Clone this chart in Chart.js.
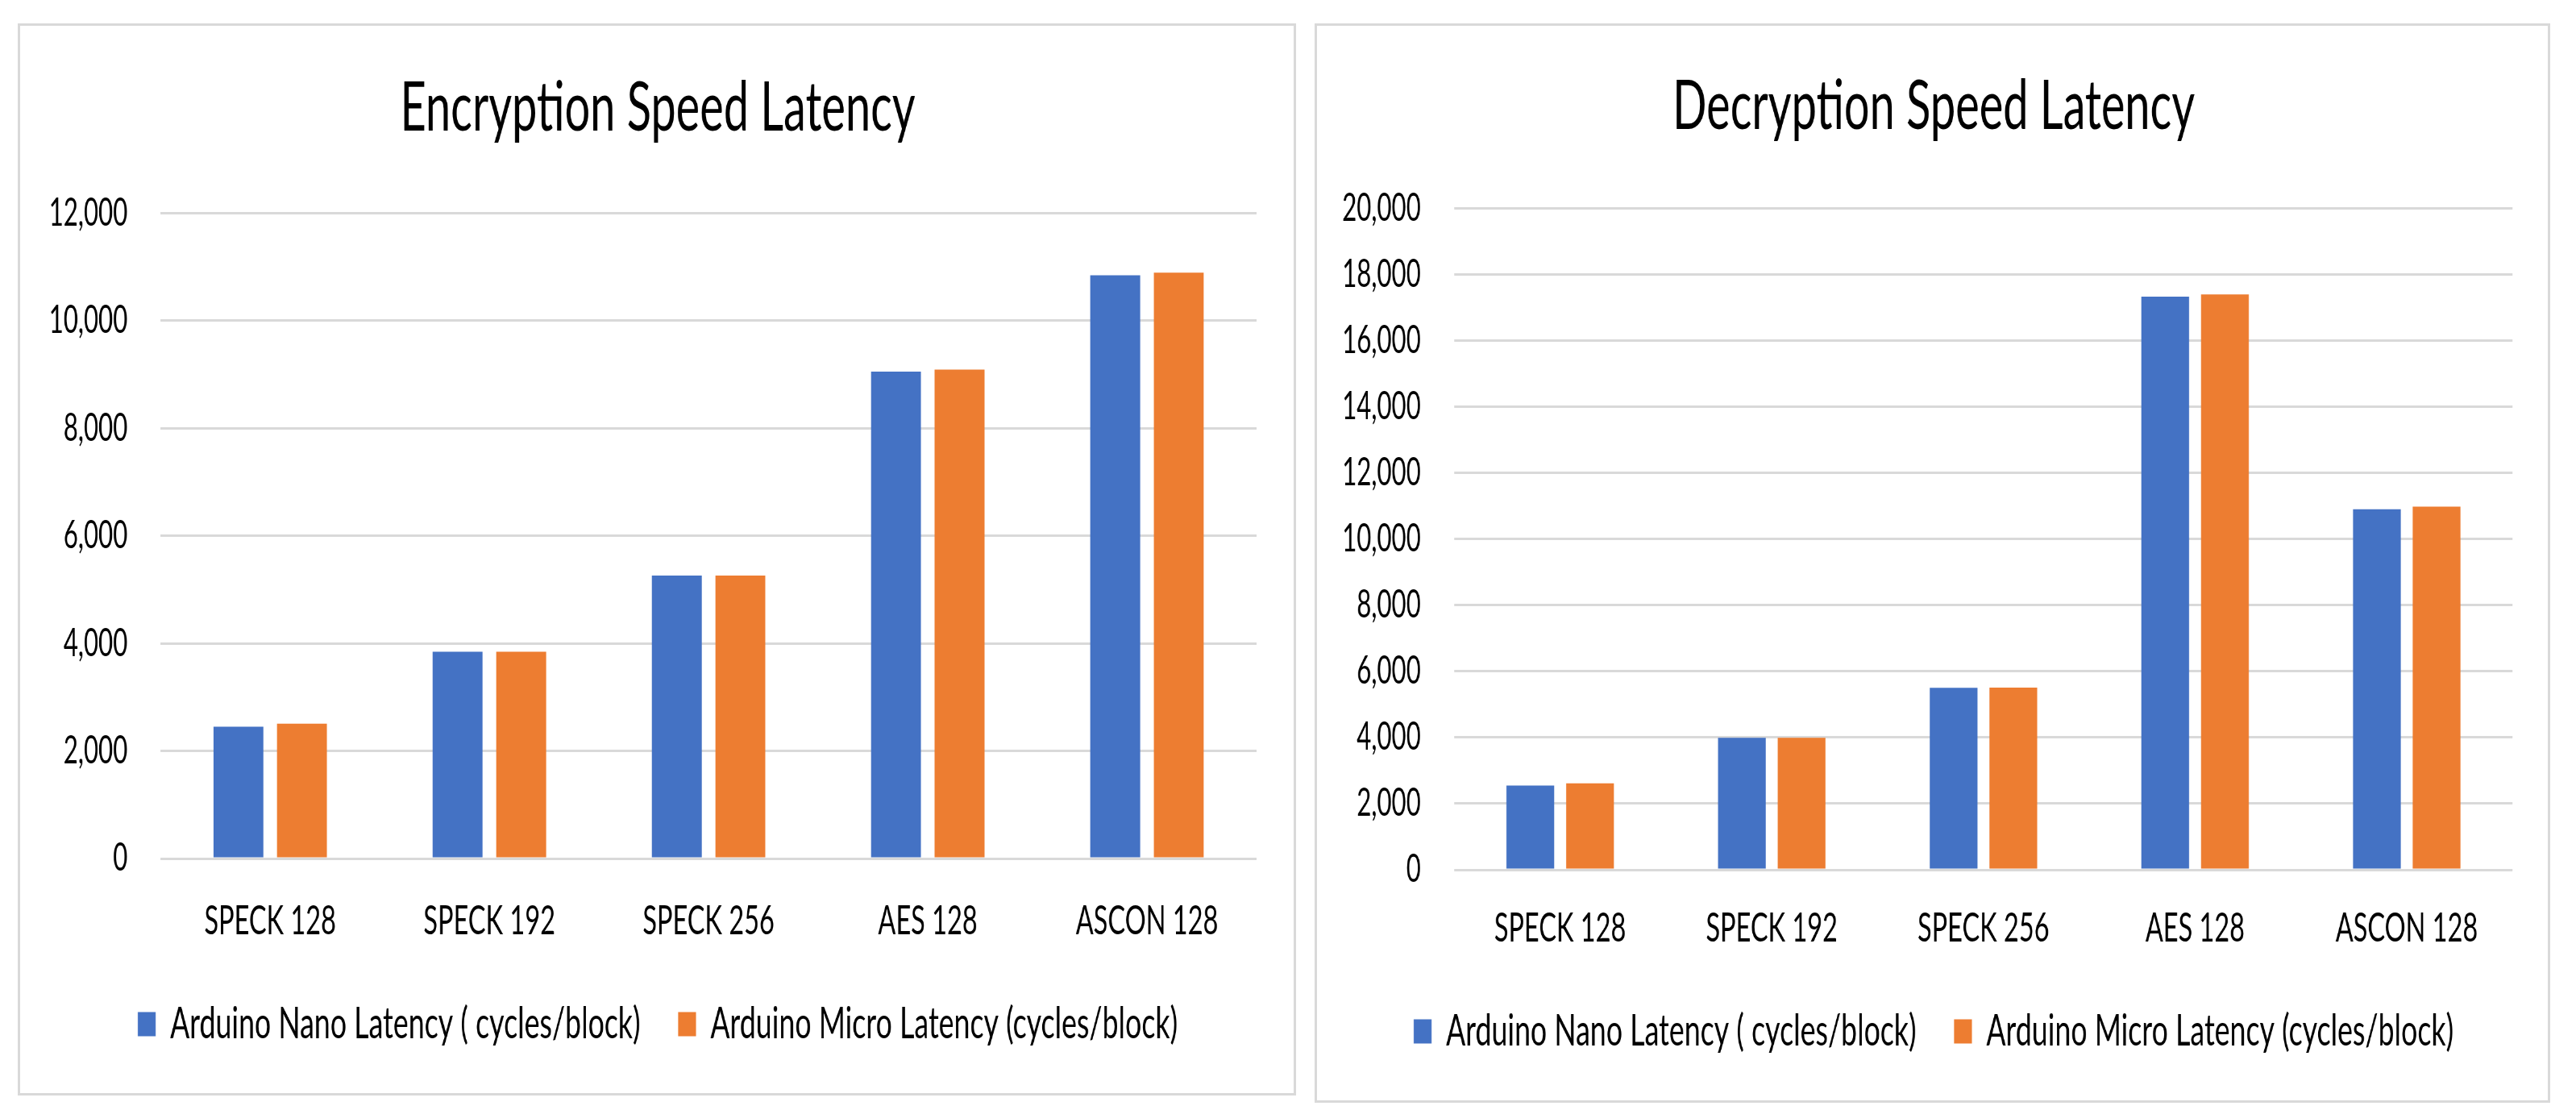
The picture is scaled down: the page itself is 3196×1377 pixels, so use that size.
<!DOCTYPE html>
<html>
<head>
<meta charset="utf-8">
<script src="https://cdn.jsdelivr.net/npm/chart.js@4"></script>
<style>
  body { margin: 0; background: #fff; width: 3196px; height: 1377px; overflow: hidden; }
  .panel { position: absolute; border: 3px solid #d9d9d9; background: #fff; overflow: hidden; }
  .squeeze { position: absolute; left: 0; top: 0; height: 100%; transform: scaleX(0.65); transform-origin: 0 0; }
</style>
</head>
<body>
<div class="panel" style="left:22px;top:29px;width:1580px;height:1324px">
  <div class="squeeze" style="width:2440px"><canvas id="encChart"></canvas></div>
</div>
<div class="panel" style="left:1631px;top:29px;width:1527px;height:1333px">
  <div class="squeeze" style="width:2360px"><canvas id="decChart"></canvas></div>
</div>
<script>
// Dados
const algorithms = ['SPECK 128', 'SPECK 192', 'SPECK 256', 'AES 128', 'ASCON 128'];
const seriesNames = ['Arduino Nano Latency ( cycles/block)', 'Arduino Micro Latency (cycles/block)'];

const encNano = [2450, 3845, 5260, 9050, 10840];
const encMicro = [2505, 3845, 5260, 9090, 10890];
const decNano = [2546, 3990, 5500, 17325, 10895];
const decMicro = [2611, 3990, 5505, 17390, 10980];

const encTicksMax = 12000;
const decTicksMax = 20000;

const blue = '#4472C4';
const orange = '#ED7D31';
const gridColor = '#d9d9d9';
const fontFamily = 'Lato, "Open Sans", sans-serif';

function makeChart(canvasId, title, nano, micro, maxY, lay) {
    const ctx = document.getElementById(canvasId).getContext('2d');
    return new Chart(ctx, {
        type: 'bar',
        data: {
            labels: algorithms,
            datasets: [
                { label: seriesNames[0], data: nano, backgroundColor: blue },
                { label: seriesNames[1], data: micro, backgroundColor: orange },
            ],
        },
        options: {
            responsive: true,
            maintainAspectRatio: false,
            animation: false,
            devicePixelRatio: 1,
            categoryPercentage: lay.cp,
            barPercentage: lay.bp,
            layout: { padding: { left: 0, right: 6, top: 0, bottom: lay.bottom } },
            plugins: {
                title: {
                    display: true,
                    text: title,
                    color: '#000',
                    font: { family: fontFamily, size: 86, weight: 'normal', lineHeight: 1.2 },
                    padding: { top: lay.titleTop, bottom: lay.titleBottom },
                },
                legend: {
                    position: 'bottom',
                    labels: {
                        color: '#000',
                        font: { family: fontFamily, size: 55 },
                        boxWidth: 34,
                        boxHeight: 30,
                        padding: lay.legendPad,
                    },
                },
                tooltip: { enabled: false },
            },
            scales: {
                x: {
                    grid: { display: false, drawTicks: false },
                    border: { display: false },
                    ticks: { color: '#000', font: { family: fontFamily, size: 50, lineHeight: 1 }, padding: lay.xPad },
                    afterFit: (scale) => { scale.height = lay.xHeight; },
                },
                y: {
                    min: 0,
                    max: maxY,
                    grid: { color: gridColor, lineWidth: 3, drawTicks: false },
                    border: { display: false },
                    ticks: {
                        stepSize: 2000,
                        color: '#000',
                        font: { family: fontFamily, size: 48 },
                        padding: lay.yPad,
                        callback: (v) => v.toLocaleString('en-US'),
                    },
                    afterFit: (scale) => { scale.width = lay.yWidth; },
                },
                // espaço vazio à direita do gráfico
                spacer: {
                    type: 'linear',
                    position: 'right',
                    grid: { display: false, drawTicks: false },
                    border: { display: false },
                    ticks: { display: false },
                    afterFit: (scale) => { scale.width = lay.rightGap; },
                },
            },
        },
    });
}

makeChart('encChart', 'Encryption Speed Latency', encNano, encMicro, encTicksMax, {
    cp: 0.58, bp: 0.785, bottom: 48, legendPad: 72,
    titleTop: 51, titleBottom: 78, xPad: 53, xHeight: 106, yPad: 63, yWidth: 268, rightGap: 74,
});

makeChart('decChart', 'Decryption Speed Latency', decNano, decMicro, decTicksMax, {
    cp: 0.564, bp: 0.8, bottom: 48, legendPad: 72,
    titleTop: 49, titleBottom: 74, xPad: 48, xHeight: 101, yPad: 64, yWidth: 262, rightGap: 72,
});
</script>
</body>
</html>
